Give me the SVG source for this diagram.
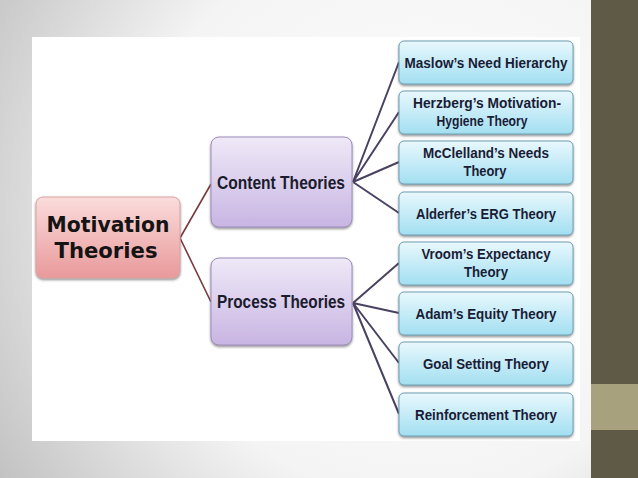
<svg xmlns="http://www.w3.org/2000/svg" width="638" height="478" viewBox="0 0 638 478">
<defs>
<radialGradient id="bg" cx="420" cy="210" r="520" gradientUnits="userSpaceOnUse">
<stop offset="0" stop-color="#ffffff"/>
<stop offset="0.55" stop-color="#f4f4f4"/>
<stop offset="1" stop-color="#bdbdbd"/>
</radialGradient>
<linearGradient id="pink" x1="0" y1="0" x2="0" y2="1">
<stop offset="0" stop-color="#fbdcdc"/>
<stop offset="1" stop-color="#e9999a"/>
</linearGradient>
<linearGradient id="lav" x1="0" y1="0" x2="0" y2="1">
<stop offset="0" stop-color="#efe9f7"/>
<stop offset="1" stop-color="#c8b5e3"/>
</linearGradient>
<linearGradient id="cyan" x1="0" y1="0" x2="0" y2="1">
<stop offset="0" stop-color="#e9f8fd"/>
<stop offset="1" stop-color="#a2dff1"/>
</linearGradient>
<filter id="sh" x="-10%" y="-10%" width="120%" height="130%">
<feDropShadow dx="0" dy="1.5" stdDeviation="1.2" flood-color="#333" flood-opacity="0.55"/>
</filter>
</defs>
<style>
.main{fill:url(#pink);stroke:#d9a3a3;stroke-width:1;filter:url(#sh)}
.mid{fill:url(#lav);stroke:#9e8cbc;stroke-width:1;filter:url(#sh)}
.leaf{fill:url(#cyan);stroke:#6e9fb3;stroke-width:1;filter:url(#sh)}
.tmain{font-family:"DejaVu Sans",Verdana,sans-serif;font-weight:bold;font-size:21px;fill:#141414;text-anchor:middle}
.tmid{font-family:"Liberation Sans",Arial,sans-serif;font-weight:bold;font-size:18.5px;fill:#1b1b2e;text-anchor:middle}
.tleaf{font-family:"Liberation Sans",Arial,sans-serif;font-weight:bold;font-size:14.5px;fill:#1a1c36;text-anchor:middle}
.c1{stroke:#7a3a3e;stroke-width:1.6;fill:none}
.c2{stroke:#4a4262;stroke-width:2;fill:none}
</style>
<rect x="0" y="0" width="638" height="478" fill="url(#bg)"/>
<rect x="591" y="0" width="47" height="478" fill="#5f5a46"/>
<rect x="591" y="384" width="47" height="46" fill="#a8a17d"/>
<rect x="32" y="37" width="548" height="404" fill="#ffffff"/>

<g id="connectors">
<path class="c1" d="M180 238 L211 184 M180 238 L211 302"/>
<path class="c2" d="M353 182 L399 62 M353 182 L399 112 M353 182 L399 162 M353 182 L399 213"/>
<path class="c2" d="M353 303 L399 263 M353 303 L399 313 M353 303 L399 363 M353 303 L399 414"/>
</g>

<g id="motivation">
<rect class="main" x="36" y="197" width="144" height="81" rx="7"/>
<text class="tmain" x="108" y="232" textLength="123" lengthAdjust="spacingAndGlyphs">Motivation</text>
<text class="tmain" x="106" y="258" textLength="103" lengthAdjust="spacingAndGlyphs">Theories</text>
</g>

<g id="content">
<rect class="mid" x="211" y="137" width="141" height="90" rx="8"/>
<text class="tmid" x="281" y="189" textLength="128" lengthAdjust="spacingAndGlyphs">Content Theories</text>
</g>

<g id="process">
<rect class="mid" x="211" y="258" width="141" height="87" rx="8"/>
<text class="tmid" x="281" y="308" textLength="128" lengthAdjust="spacingAndGlyphs">Process Theories</text>
</g>

<g id="maslow">
<rect class="leaf" x="399" y="41" width="174" height="43" rx="5"/>
<text class="tleaf" x="486" y="68" textLength="163" lengthAdjust="spacingAndGlyphs">Maslow’s Need Hierarchy</text>
</g>
<g id="herzberg">
<rect class="leaf" x="399" y="91" width="174" height="43" rx="5"/>
<text class="tleaf" x="487" y="108" textLength="148" lengthAdjust="spacingAndGlyphs">Herzberg’s Motivation-</text>
<text class="tleaf" x="482" y="126" textLength="91" lengthAdjust="spacingAndGlyphs">Hygiene Theory</text>
</g>
<g id="mcclelland">
<rect class="leaf" x="399" y="141" width="174" height="43" rx="5"/>
<text class="tleaf" x="486" y="158" textLength="126" lengthAdjust="spacingAndGlyphs">McClelland’s Needs</text>
<text class="tleaf" x="485" y="176" textLength="43" lengthAdjust="spacingAndGlyphs">Theory</text>
</g>
<g id="alderfer">
<rect class="leaf" x="399" y="192" width="174" height="43" rx="5"/>
<text class="tleaf" x="486" y="219" textLength="140" lengthAdjust="spacingAndGlyphs">Alderfer’s ERG Theory</text>
</g>
<g id="vroom">
<rect class="leaf" x="399" y="242" width="174" height="43" rx="5"/>
<text class="tleaf" x="486" y="259" textLength="129" lengthAdjust="spacingAndGlyphs">Vroom’s Expectancy</text>
<text class="tleaf" x="486" y="277" textLength="44" lengthAdjust="spacingAndGlyphs">Theory</text>
</g>
<g id="adam">
<rect class="leaf" x="399" y="292" width="174" height="43" rx="5"/>
<text class="tleaf" x="486" y="319" textLength="141" lengthAdjust="spacingAndGlyphs">Adam’s Equity Theory</text>
</g>
<g id="goal">
<rect class="leaf" x="399" y="342" width="174" height="43" rx="5"/>
<text class="tleaf" x="486" y="369" textLength="126" lengthAdjust="spacingAndGlyphs">Goal Setting Theory</text>
</g>
<g id="reinforcement">
<rect class="leaf" x="399" y="393" width="174" height="43" rx="5"/>
<text class="tleaf" x="486" y="420" textLength="142" lengthAdjust="spacingAndGlyphs">Reinforcement Theory</text>
</g>
</svg>
